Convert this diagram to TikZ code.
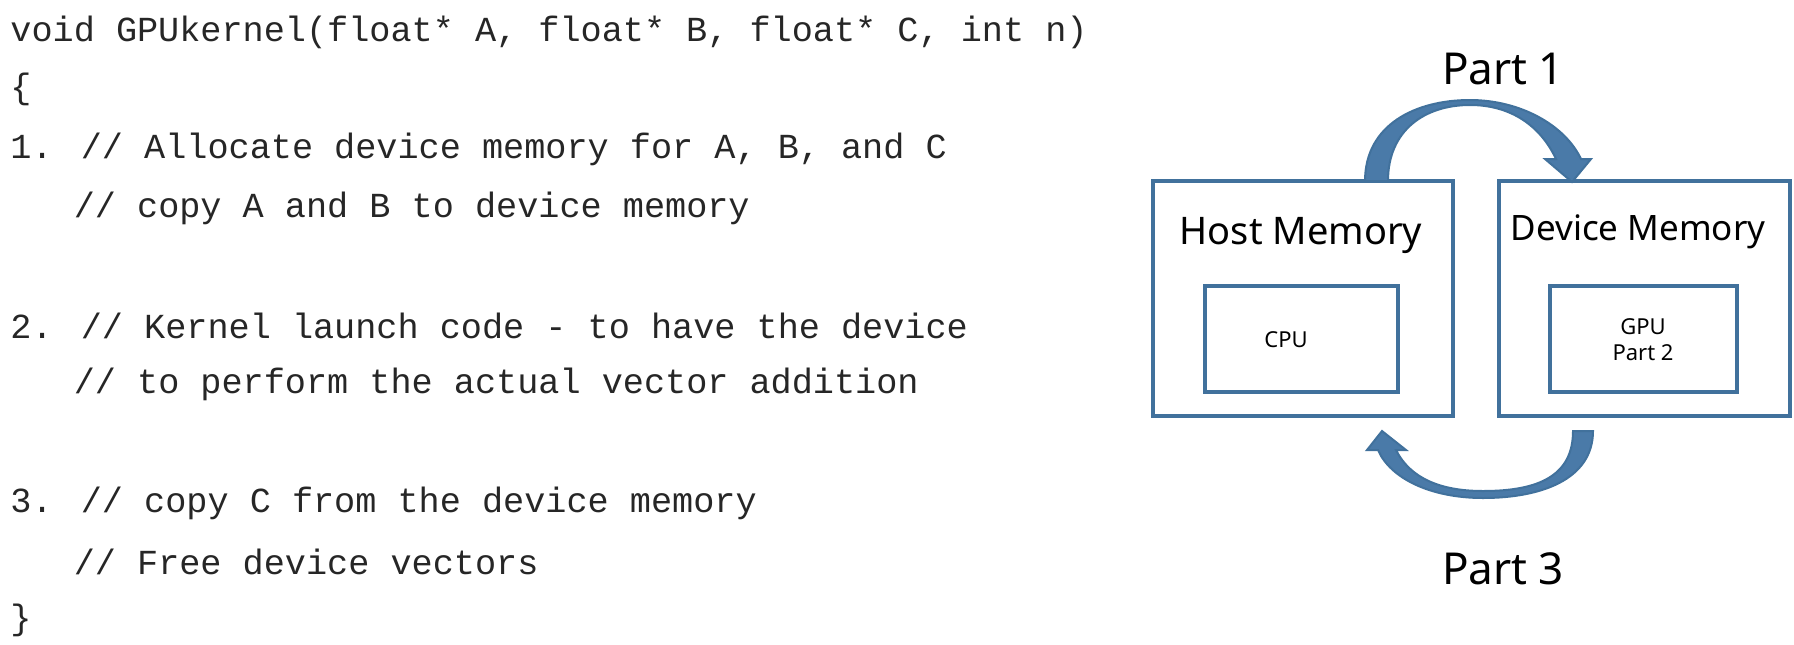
\documentclass[tikz,border=0pt]{standalone}
\usepackage{fontspec}
\setmainfont{Noto Sans}
\newfontfamily\codefont{Liberation Mono}
\definecolor{bx}{HTML}{41719C}
\definecolor{af}{HTML}{5B9BD5}
\definecolor{ad}{HTML}{4A7AA8}
\begin{document}
\begin{tikzpicture}[x=0.5pt,y=-0.5pt,
  code/.style={anchor=west,inner sep=0pt,font=\codefont\fontsize{17.6}{20}\selectfont,text=black!85},
  mem/.style={draw=bx,line width=2pt},
  lbl/.style={inner sep=0pt,font=\fontsize{11}{13}\selectfont,align=center}]
\useasboundingbox (0,0) rectangle (1794,644);
\node[code] (l1) at (10,32) {void GPUkernel(float* A, float* B, float* C, int n)};
\node[code] (l2) at (10,89) {\{};
\node[code] (l3) at (10,149) {1. // Allocate device memory for A, B, and C};
\node[code] (l4) at (10,208) {\ \ \ // copy A and B to device memory};
\node[code] (l5) at (10,326) {2. // Kernel launch code - to have the device};
\node[code] (l6) at (10,384) {\ \ \ // to perform the actual vector addition};
\node[code] (l7) at (10,503) {3. // copy C from the device memory};
\node[code] (l8) at (10,562) {\ \ \ // Free device vectors};
\node[code] (l9) at (10,620) {\}};
% boxes
\draw[mem] (1153,181) rectangle (1453,416);
\draw[mem] (1499,181) rectangle (1790,416);
\draw[mem] (1205,286) rectangle (1398,392);
\draw[mem] (1550,286) rectangle (1737,392);
\node[inner sep=0pt,font=\fontsize{19}{22}\selectfont] (hm) at (1301,235) {Host Memory};
\node[inner sep=0pt,font=\fontsize{17.5}{20}\selectfont] (dm) at (1638,232) {Device Memory};
\node[lbl] (cpu) at (1286,340) {CPU};
\node[lbl] (gpu) at (1643,340) {GPU\\Part 2};
\node[inner sep=0pt,font=\fontsize{22}{26}\selectfont] (p1) at (1503,69) {Part 1};
\node[inner sep=0pt,font=\fontsize{22}{26}\selectfont] (p3) at (1503,569) {Part 3};
% arrow 1
\fill[ad,draw=bx,line width=1pt] (1365,181) .. controls (1365,125) and (1415,100) .. (1470,100)
  .. controls (1520,100) and (1565,125) .. (1581,159) -- (1591,159) -- (1572,182) -- (1545,159) -- (1556,159)
  .. controls (1540,125) and (1510,105) .. (1470,105) .. controls (1425,105) and (1388,130) .. (1388,181) -- cycle;
% arrow 3
\fill[ad,draw=bx,line width=1pt] (1593,431) .. controls (1593,480) and (1540,498) .. (1483,498)
  .. controls (1430,498) and (1390,478) .. (1378,450) -- (1367,450) -- (1382,431) -- (1406,450) -- (1396,450)
  .. controls (1410,478) and (1440,491) .. (1483,491) .. controls (1540,491) and (1573,475) .. (1573,431) -- cycle;
\end{tikzpicture}
\end{document}
